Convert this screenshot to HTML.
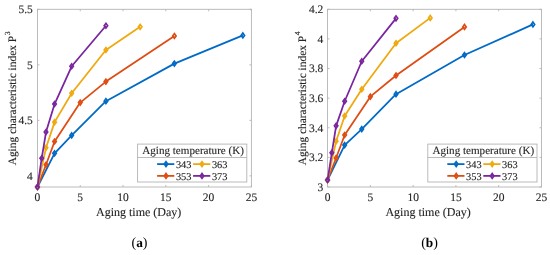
<!DOCTYPE html>
<html><head><meta charset="utf-8"><style>
html,body{margin:0;padding:0;background:#fff;}
svg{display:block;font-family:"Liberation Serif",serif;text-rendering:geometricPrecision;will-change:transform;}
text{stroke:currentColor;stroke-width:0.12px;}
</style></head><body>
<svg width="550" height="255" viewBox="0 0 550 255">
<rect width="550" height="255" fill="#fff"/>
<rect x="37.45" y="9.3" width="213.95" height="177.70" fill="none" stroke="#b4b4b4" stroke-width="0.9"/>
<path d="M37.45 187.0v-2.0M37.45 9.3v2.0" stroke="#b4b4b4" stroke-width="0.9"/>
<path d="M80.24 187.0v-2.0M80.24 9.3v2.0" stroke="#b4b4b4" stroke-width="0.9"/>
<path d="M123.03 187.0v-2.0M123.03 9.3v2.0" stroke="#b4b4b4" stroke-width="0.9"/>
<path d="M165.82 187.0v-2.0M165.82 9.3v2.0" stroke="#b4b4b4" stroke-width="0.9"/>
<path d="M208.61 187.0v-2.0M208.61 9.3v2.0" stroke="#b4b4b4" stroke-width="0.9"/>
<path d="M251.40 187.0v-2.0M251.40 9.3v2.0" stroke="#b4b4b4" stroke-width="0.9"/>
<path d="M37.45 175.89h2.0M251.4 175.89h-2.0" stroke="#b4b4b4" stroke-width="0.9"/>
<path d="M37.45 120.36h2.0M251.4 120.36h-2.0" stroke="#b4b4b4" stroke-width="0.9"/>
<path d="M37.45 64.83h2.0M251.4 64.83h-2.0" stroke="#b4b4b4" stroke-width="0.9"/>
<path d="M37.45 9.30h2.0M251.4 9.30h-2.0" stroke="#b4b4b4" stroke-width="0.9"/>
<path d="M37.45 187.00L54.57 153.35L71.68 135.36L105.91 101.15L174.38 63.61L242.84 35.40" fill="none" stroke="#006AC6" stroke-width="1.75" stroke-linejoin="round"/>
<path d="M37.45 184.60L39.20 187.00L37.45 189.40L35.70 187.00Z" fill="none" stroke="#006AC6" stroke-width="1.65" stroke-linejoin="miter"/>
<path d="M54.57 150.95L56.32 153.35L54.57 155.75L52.82 153.35Z" fill="none" stroke="#006AC6" stroke-width="1.65" stroke-linejoin="miter"/>
<path d="M71.68 132.96L73.43 135.36L71.68 137.76L69.93 135.36Z" fill="none" stroke="#006AC6" stroke-width="1.65" stroke-linejoin="miter"/>
<path d="M105.91 98.75L107.66 101.15L105.91 103.55L104.16 101.15Z" fill="none" stroke="#006AC6" stroke-width="1.65" stroke-linejoin="miter"/>
<path d="M174.38 61.21L176.13 63.61L174.38 66.01L172.63 63.61Z" fill="none" stroke="#006AC6" stroke-width="1.65" stroke-linejoin="miter"/>
<path d="M242.84 33.00L244.59 35.40L242.84 37.80L241.09 35.40Z" fill="none" stroke="#006AC6" stroke-width="1.65" stroke-linejoin="miter"/>
<path d="M37.45 187.00L46.01 164.79L54.57 141.46L80.24 102.59L105.91 81.60L174.38 35.96" fill="none" stroke="#DF4C12" stroke-width="1.75" stroke-linejoin="round"/>
<path d="M37.45 184.60L39.20 187.00L37.45 189.40L35.70 187.00Z" fill="none" stroke="#DF4C12" stroke-width="1.65" stroke-linejoin="miter"/>
<path d="M46.01 162.39L47.76 164.79L46.01 167.19L44.26 164.79Z" fill="none" stroke="#DF4C12" stroke-width="1.65" stroke-linejoin="miter"/>
<path d="M54.57 139.06L56.32 141.46L54.57 143.86L52.82 141.46Z" fill="none" stroke="#DF4C12" stroke-width="1.65" stroke-linejoin="miter"/>
<path d="M80.24 100.19L81.99 102.59L80.24 104.99L78.49 102.59Z" fill="none" stroke="#DF4C12" stroke-width="1.65" stroke-linejoin="miter"/>
<path d="M105.91 79.20L107.66 81.60L105.91 84.00L104.16 81.60Z" fill="none" stroke="#DF4C12" stroke-width="1.65" stroke-linejoin="miter"/>
<path d="M174.38 33.56L176.13 35.96L174.38 38.36L172.63 35.96Z" fill="none" stroke="#DF4C12" stroke-width="1.65" stroke-linejoin="miter"/>
<path d="M37.45 187.00L46.01 147.79L54.57 122.14L71.68 93.26L105.91 49.95L140.15 26.85" fill="none" stroke="#EFA90E" stroke-width="1.75" stroke-linejoin="round"/>
<path d="M37.45 184.60L39.20 187.00L37.45 189.40L35.70 187.00Z" fill="none" stroke="#EFA90E" stroke-width="1.65" stroke-linejoin="miter"/>
<path d="M46.01 145.39L47.76 147.79L46.01 150.19L44.26 147.79Z" fill="none" stroke="#EFA90E" stroke-width="1.65" stroke-linejoin="miter"/>
<path d="M54.57 119.74L56.32 122.14L54.57 124.54L52.82 122.14Z" fill="none" stroke="#EFA90E" stroke-width="1.65" stroke-linejoin="miter"/>
<path d="M71.68 90.86L73.43 93.26L71.68 95.66L69.93 93.26Z" fill="none" stroke="#EFA90E" stroke-width="1.65" stroke-linejoin="miter"/>
<path d="M105.91 47.55L107.66 49.95L105.91 52.35L104.16 49.95Z" fill="none" stroke="#EFA90E" stroke-width="1.65" stroke-linejoin="miter"/>
<path d="M140.15 24.45L141.90 26.85L140.15 29.25L138.40 26.85Z" fill="none" stroke="#EFA90E" stroke-width="1.65" stroke-linejoin="miter"/>
<path d="M37.45 187.00L41.73 158.23L46.01 132.02L54.57 104.04L71.68 66.28L105.91 25.74" fill="none" stroke="#7A24A0" stroke-width="1.75" stroke-linejoin="round"/>
<path d="M37.45 184.60L39.20 187.00L37.45 189.40L35.70 187.00Z" fill="none" stroke="#7A24A0" stroke-width="1.65" stroke-linejoin="miter"/>
<path d="M41.73 155.83L43.48 158.23L41.73 160.63L39.98 158.23Z" fill="none" stroke="#7A24A0" stroke-width="1.65" stroke-linejoin="miter"/>
<path d="M46.01 129.62L47.76 132.02L46.01 134.42L44.26 132.02Z" fill="none" stroke="#7A24A0" stroke-width="1.65" stroke-linejoin="miter"/>
<path d="M54.57 101.64L56.32 104.04L54.57 106.44L52.82 104.04Z" fill="none" stroke="#7A24A0" stroke-width="1.65" stroke-linejoin="miter"/>
<path d="M71.68 63.88L73.43 66.28L71.68 68.68L69.93 66.28Z" fill="none" stroke="#7A24A0" stroke-width="1.65" stroke-linejoin="miter"/>
<path d="M105.91 23.34L107.66 25.74L105.91 28.14L104.16 25.74Z" fill="none" stroke="#7A24A0" stroke-width="1.65" stroke-linejoin="miter"/>
<text x="37.45" y="201.30" text-anchor="middle" font-size="11.5" fill="#262626" color="#262626">0</text>
<text x="80.24" y="201.30" text-anchor="middle" font-size="11.5" fill="#262626" color="#262626">5</text>
<text x="123.03" y="201.30" text-anchor="middle" font-size="11.5" fill="#262626" color="#262626">10</text>
<text x="165.82" y="201.30" text-anchor="middle" font-size="11.5" fill="#262626" color="#262626">15</text>
<text x="208.61" y="201.30" text-anchor="middle" font-size="11.5" fill="#262626" color="#262626">20</text>
<text x="251.40" y="201.30" text-anchor="middle" font-size="11.5" fill="#262626" color="#262626">25</text>
<text x="32.85" y="179.79" text-anchor="end" font-size="11.5" fill="#262626" color="#262626">4</text>
<text x="32.85" y="124.26" text-anchor="end" font-size="11.5" fill="#262626" color="#262626">4.5</text>
<text x="32.85" y="68.73" text-anchor="end" font-size="11.5" fill="#262626" color="#262626">5</text>
<text x="32.85" y="13.20" text-anchor="end" font-size="11.5" fill="#262626" color="#262626">5.5</text>
<text x="138.70" y="216.0" text-anchor="middle" font-size="12" fill="#262626" color="#262626">Aging time (Day)</text>
<text transform="translate(15.50 165.3) rotate(-90)" x="0" y="0" font-size="11.4" fill="#262626" color="#262626">Aging characteristic index P<tspan font-size="7.75" dx="0.6" dy="-5.4">3</tspan></text>
<rect x="137.6" y="144.1" width="109.20" height="37.90" fill="#fff" stroke="#b4b4b4" stroke-width="0.9"/>
<path d="M137.6 157.5H246.8" stroke="#b4b4b4" stroke-width="0.9"/>
<text x="193.10" y="154.45" text-anchor="middle" font-size="11.1" fill="#262626" color="#262626">Aging temperature (K)</text>
<path d="M157.10 164.1h17.2" stroke="#006AC6" stroke-width="1.75"/>
<path d="M166.00 161.70L167.75 164.10L166.00 166.50L164.25 164.10Z" fill="none" stroke="#006AC6" stroke-width="1.65" stroke-linejoin="miter"/>
<text x="175.90" y="167.80" font-size="10.4" fill="#262626" color="#262626">343</text>
<path d="M157.10 175.9h17.2" stroke="#DF4C12" stroke-width="1.75"/>
<path d="M166.00 173.50L167.75 175.90L166.00 178.30L164.25 175.90Z" fill="none" stroke="#DF4C12" stroke-width="1.65" stroke-linejoin="miter"/>
<text x="175.90" y="179.60" font-size="10.4" fill="#262626" color="#262626">353</text>
<path d="M193.10 164.1h17.2" stroke="#EFA90E" stroke-width="1.75"/>
<path d="M202.00 161.70L203.75 164.10L202.00 166.50L200.25 164.10Z" fill="none" stroke="#EFA90E" stroke-width="1.65" stroke-linejoin="miter"/>
<text x="211.90" y="167.80" font-size="10.4" fill="#262626" color="#262626">363</text>
<path d="M193.10 175.9h17.2" stroke="#7A24A0" stroke-width="1.75"/>
<path d="M202.00 173.50L203.75 175.90L202.00 178.30L200.25 175.90Z" fill="none" stroke="#7A24A0" stroke-width="1.65" stroke-linejoin="miter"/>
<text x="211.90" y="179.60" font-size="10.4" fill="#262626" color="#262626">373</text>
<rect x="327.55" y="9.3" width="213.95" height="177.70" fill="none" stroke="#b4b4b4" stroke-width="0.9"/>
<path d="M327.55 187.0v-2.0M327.55 9.3v2.0" stroke="#b4b4b4" stroke-width="0.9"/>
<path d="M370.34 187.0v-2.0M370.34 9.3v2.0" stroke="#b4b4b4" stroke-width="0.9"/>
<path d="M413.13 187.0v-2.0M413.13 9.3v2.0" stroke="#b4b4b4" stroke-width="0.9"/>
<path d="M455.92 187.0v-2.0M455.92 9.3v2.0" stroke="#b4b4b4" stroke-width="0.9"/>
<path d="M498.71 187.0v-2.0M498.71 9.3v2.0" stroke="#b4b4b4" stroke-width="0.9"/>
<path d="M541.50 187.0v-2.0M541.50 9.3v2.0" stroke="#b4b4b4" stroke-width="0.9"/>
<path d="M327.55 187.00h2.0M541.5 187.00h-2.0" stroke="#b4b4b4" stroke-width="0.9"/>
<path d="M327.55 157.38h2.0M541.5 157.38h-2.0" stroke="#b4b4b4" stroke-width="0.9"/>
<path d="M327.55 127.77h2.0M541.5 127.77h-2.0" stroke="#b4b4b4" stroke-width="0.9"/>
<path d="M327.55 98.15h2.0M541.5 98.15h-2.0" stroke="#b4b4b4" stroke-width="0.9"/>
<path d="M327.55 68.53h2.0M541.5 68.53h-2.0" stroke="#b4b4b4" stroke-width="0.9"/>
<path d="M327.55 38.92h2.0M541.5 38.92h-2.0" stroke="#b4b4b4" stroke-width="0.9"/>
<path d="M327.55 9.30h2.0M541.5 9.30h-2.0" stroke="#b4b4b4" stroke-width="0.9"/>
<path d="M327.55 180.04L344.67 145.09L361.78 129.10L396.01 94.15L464.48 55.06L532.94 24.40" fill="none" stroke="#006AC6" stroke-width="1.75" stroke-linejoin="round"/>
<path d="M327.55 177.64L329.30 180.04L327.55 182.44L325.80 180.04Z" fill="none" stroke="#006AC6" stroke-width="1.65" stroke-linejoin="miter"/>
<path d="M344.67 142.69L346.42 145.09L344.67 147.49L342.92 145.09Z" fill="none" stroke="#006AC6" stroke-width="1.65" stroke-linejoin="miter"/>
<path d="M361.78 126.70L363.53 129.10L361.78 131.50L360.03 129.10Z" fill="none" stroke="#006AC6" stroke-width="1.65" stroke-linejoin="miter"/>
<path d="M396.01 91.75L397.76 94.15L396.01 96.55L394.26 94.15Z" fill="none" stroke="#006AC6" stroke-width="1.65" stroke-linejoin="miter"/>
<path d="M464.48 52.66L466.23 55.06L464.48 57.46L462.73 55.06Z" fill="none" stroke="#006AC6" stroke-width="1.65" stroke-linejoin="miter"/>
<path d="M532.94 22.00L534.69 24.40L532.94 26.80L531.19 24.40Z" fill="none" stroke="#006AC6" stroke-width="1.65" stroke-linejoin="miter"/>
<path d="M327.55 180.04L336.11 157.98L344.67 135.02L370.34 96.67L396.01 75.49L464.48 26.92" fill="none" stroke="#DF4C12" stroke-width="1.75" stroke-linejoin="round"/>
<path d="M327.55 177.64L329.30 180.04L327.55 182.44L325.80 180.04Z" fill="none" stroke="#DF4C12" stroke-width="1.65" stroke-linejoin="miter"/>
<path d="M336.11 155.58L337.86 157.98L336.11 160.38L334.36 157.98Z" fill="none" stroke="#DF4C12" stroke-width="1.65" stroke-linejoin="miter"/>
<path d="M344.67 132.62L346.42 135.02L344.67 137.42L342.92 135.02Z" fill="none" stroke="#DF4C12" stroke-width="1.65" stroke-linejoin="miter"/>
<path d="M370.34 94.27L372.09 96.67L370.34 99.07L368.59 96.67Z" fill="none" stroke="#DF4C12" stroke-width="1.65" stroke-linejoin="miter"/>
<path d="M396.01 73.09L397.76 75.49L396.01 77.89L394.26 75.49Z" fill="none" stroke="#DF4C12" stroke-width="1.65" stroke-linejoin="miter"/>
<path d="M464.48 24.52L466.23 26.92L464.48 29.32L462.73 26.92Z" fill="none" stroke="#DF4C12" stroke-width="1.65" stroke-linejoin="miter"/>
<path d="M327.55 180.04L336.11 141.24L344.67 116.07L361.78 89.27L396.01 43.21L430.25 17.89" fill="none" stroke="#EFA90E" stroke-width="1.75" stroke-linejoin="round"/>
<path d="M327.55 177.64L329.30 180.04L327.55 182.44L325.80 180.04Z" fill="none" stroke="#EFA90E" stroke-width="1.65" stroke-linejoin="miter"/>
<path d="M336.11 138.84L337.86 141.24L336.11 143.64L334.36 141.24Z" fill="none" stroke="#EFA90E" stroke-width="1.65" stroke-linejoin="miter"/>
<path d="M344.67 113.67L346.42 116.07L344.67 118.47L342.92 116.07Z" fill="none" stroke="#EFA90E" stroke-width="1.65" stroke-linejoin="miter"/>
<path d="M361.78 86.86L363.53 89.27L361.78 91.67L360.03 89.27Z" fill="none" stroke="#EFA90E" stroke-width="1.65" stroke-linejoin="miter"/>
<path d="M396.01 40.81L397.76 43.21L396.01 45.61L394.26 43.21Z" fill="none" stroke="#EFA90E" stroke-width="1.65" stroke-linejoin="miter"/>
<path d="M430.25 15.49L432.00 17.89L430.25 20.29L428.50 17.89Z" fill="none" stroke="#EFA90E" stroke-width="1.65" stroke-linejoin="miter"/>
<path d="M327.55 180.04L331.83 152.79L336.11 125.84L344.67 101.26L361.78 61.28L396.01 18.33" fill="none" stroke="#7A24A0" stroke-width="1.75" stroke-linejoin="round"/>
<path d="M327.55 177.64L329.30 180.04L327.55 182.44L325.80 180.04Z" fill="none" stroke="#7A24A0" stroke-width="1.65" stroke-linejoin="miter"/>
<path d="M331.83 150.39L333.58 152.79L331.83 155.19L330.08 152.79Z" fill="none" stroke="#7A24A0" stroke-width="1.65" stroke-linejoin="miter"/>
<path d="M336.11 123.44L337.86 125.84L336.11 128.24L334.36 125.84Z" fill="none" stroke="#7A24A0" stroke-width="1.65" stroke-linejoin="miter"/>
<path d="M344.67 98.86L346.42 101.26L344.67 103.66L342.92 101.26Z" fill="none" stroke="#7A24A0" stroke-width="1.65" stroke-linejoin="miter"/>
<path d="M361.78 58.88L363.53 61.28L361.78 63.68L360.03 61.28Z" fill="none" stroke="#7A24A0" stroke-width="1.65" stroke-linejoin="miter"/>
<path d="M396.01 15.93L397.76 18.33L396.01 20.73L394.26 18.33Z" fill="none" stroke="#7A24A0" stroke-width="1.65" stroke-linejoin="miter"/>
<text x="327.55" y="201.30" text-anchor="middle" font-size="11.5" fill="#262626" color="#262626">0</text>
<text x="370.34" y="201.30" text-anchor="middle" font-size="11.5" fill="#262626" color="#262626">5</text>
<text x="413.13" y="201.30" text-anchor="middle" font-size="11.5" fill="#262626" color="#262626">10</text>
<text x="455.92" y="201.30" text-anchor="middle" font-size="11.5" fill="#262626" color="#262626">15</text>
<text x="498.71" y="201.30" text-anchor="middle" font-size="11.5" fill="#262626" color="#262626">20</text>
<text x="541.50" y="201.30" text-anchor="middle" font-size="11.5" fill="#262626" color="#262626">25</text>
<text x="323.25" y="190.90" text-anchor="end" font-size="11.5" fill="#262626" color="#262626">3</text>
<text x="323.25" y="161.28" text-anchor="end" font-size="11.5" fill="#262626" color="#262626">3.2</text>
<text x="323.25" y="131.67" text-anchor="end" font-size="11.5" fill="#262626" color="#262626">3.4</text>
<text x="323.25" y="102.05" text-anchor="end" font-size="11.5" fill="#262626" color="#262626">3.6</text>
<text x="323.25" y="72.43" text-anchor="end" font-size="11.5" fill="#262626" color="#262626">3.8</text>
<text x="323.25" y="42.82" text-anchor="end" font-size="11.5" fill="#262626" color="#262626">4</text>
<text x="323.25" y="13.20" text-anchor="end" font-size="11.5" fill="#262626" color="#262626">4.2</text>
<text x="428.05" y="216.0" text-anchor="middle" font-size="12" fill="#262626" color="#262626">Aging time (Day)</text>
<text transform="translate(305.70 165.3) rotate(-90)" x="0" y="0" font-size="11.4" fill="#262626" color="#262626">Aging characteristic index P<tspan font-size="7.75" dx="0.6" dy="-5.4">4</tspan></text>
<rect x="427.79999999999995" y="144.1" width="109.20" height="37.90" fill="#fff" stroke="#b4b4b4" stroke-width="0.9"/>
<path d="M427.79999999999995 157.5H537.0" stroke="#b4b4b4" stroke-width="0.9"/>
<text x="483.30" y="154.45" text-anchor="middle" font-size="11.1" fill="#262626" color="#262626">Aging temperature (K)</text>
<path d="M447.30 164.1h17.2" stroke="#006AC6" stroke-width="1.75"/>
<path d="M456.20 161.70L457.95 164.10L456.20 166.50L454.45 164.10Z" fill="none" stroke="#006AC6" stroke-width="1.65" stroke-linejoin="miter"/>
<text x="466.10" y="167.80" font-size="10.4" fill="#262626" color="#262626">343</text>
<path d="M447.30 175.9h17.2" stroke="#DF4C12" stroke-width="1.75"/>
<path d="M456.20 173.50L457.95 175.90L456.20 178.30L454.45 175.90Z" fill="none" stroke="#DF4C12" stroke-width="1.65" stroke-linejoin="miter"/>
<text x="466.10" y="179.60" font-size="10.4" fill="#262626" color="#262626">353</text>
<path d="M483.30 164.1h17.2" stroke="#EFA90E" stroke-width="1.75"/>
<path d="M492.20 161.70L493.95 164.10L492.20 166.50L490.45 164.10Z" fill="none" stroke="#EFA90E" stroke-width="1.65" stroke-linejoin="miter"/>
<text x="502.10" y="167.80" font-size="10.4" fill="#262626" color="#262626">363</text>
<path d="M483.30 175.9h17.2" stroke="#7A24A0" stroke-width="1.75"/>
<path d="M492.20 173.50L493.95 175.90L492.20 178.30L490.45 175.90Z" fill="none" stroke="#7A24A0" stroke-width="1.65" stroke-linejoin="miter"/>
<text x="502.10" y="179.60" font-size="10.4" fill="#262626" color="#262626">373</text>
<text x="139.5" y="247.1" text-anchor="middle" font-size="14" fill="#000" style="stroke:none">(<tspan font-weight="bold" font-size="13.3">a</tspan>)</text>
<text x="429.5" y="247.1" text-anchor="middle" font-size="14" fill="#000" style="stroke:none">(<tspan font-weight="bold" font-size="13.3">b</tspan>)</text>
</svg>
</body></html>
